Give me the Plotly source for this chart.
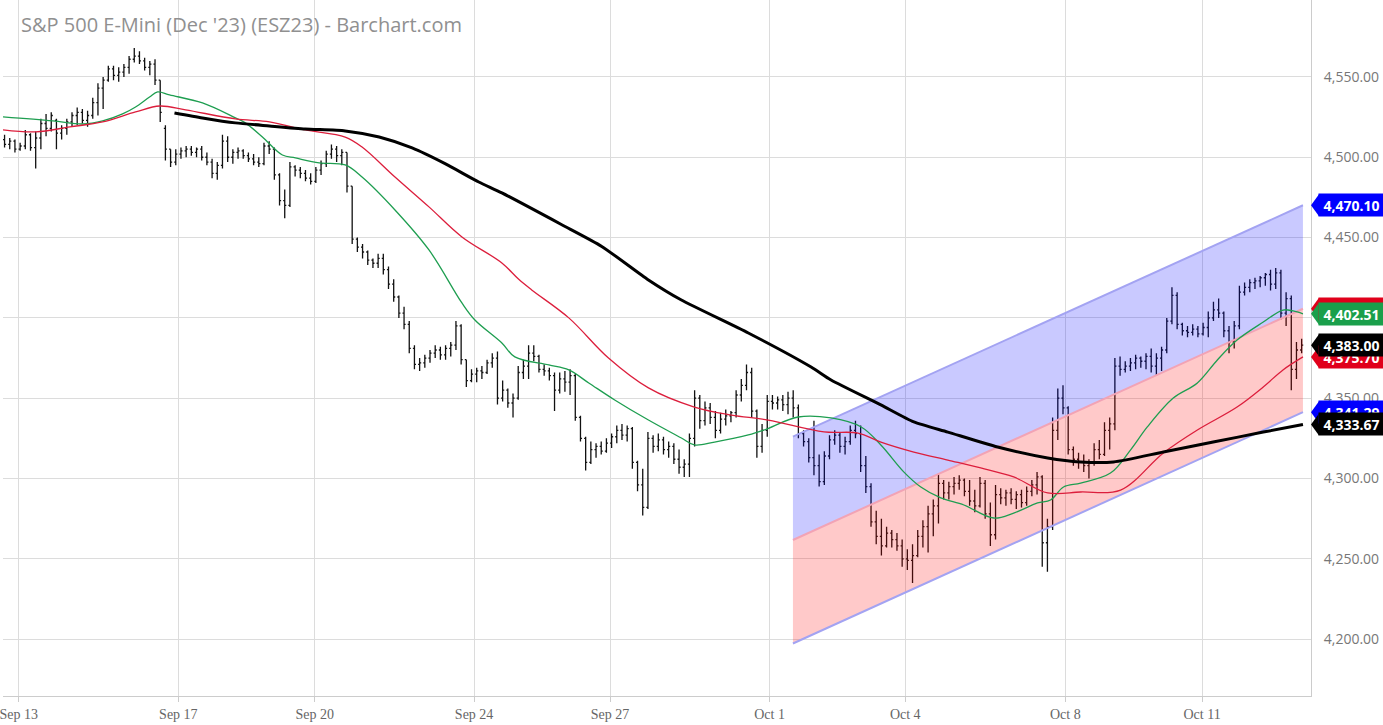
import plotly.graph_objects as go

title_text = "S&P 500 E-Mini (Dec '23) (ESZ23) - Barchart.com"

# x axis: trading-session hours (weekend / daily breaks removed)
tick_hours = [5.5, 67.0, 119.6, 181.0, 233.4, 294.9, 347.2, 408.9, 461.6]
tick_labels = ["Sep 13", "Sep 17", "Sep 20", "Sep 24", "Sep 27", "Oct 1", "Oct 4", "Oct 8", "Oct 11"]
bar_step_hours = 2

opens = [4511, 4508, 4510, 4505, 4507, 4514, 4506, 4512, 4521, 4518,
         4523, 4515, 4518, 4522, 4526, 4528, 4523, 4526, 4534, 4543,
         4548, 4555, 4551, 4553, 4556, 4561, 4563, 4560, 4556, 4558,
         4548, 4518, 4505, 4497, 4502, 4504, 4505, 4503, 4505, 4500,
         4497, 4490, 4495, 4510, 4500, 4503, 4504, 4501, 4499, 4497,
         4496, 4507, 4505, 4489, 4473, 4470, 4494, 4492, 4490, 4487,
         4485, 4492, 4496, 4502, 4505, 4501, 4503, 4482, 4449, 4444,
         4441, 4436, 4434, 4437, 4430, 4421, 4413, 4403, 4396, 4381,
         4371, 4372, 4375, 4378, 4380, 4377, 4381, 4383, 4395, 4374,
         4361, 4365, 4367, 4366, 4372, 4375, 4350, 4355, 4347, 4350,
         4366, 4370, 4378, 4376, 4368, 4367, 4364, 4355, 4362, 4360,
         4364, 4338, 4325, 4310, 4318, 4320, 4317, 4322, 4326, 4330,
         4327, 4331, 4310, 4296, 4282, 4325, 4320, 4324, 4318, 4320,
         4312, 4307, 4309, 4325, 4350, 4336, 4344, 4338, 4330, 4337,
         4339, 4341, 4352, 4358, 4366, 4342, 4320, 4330, 4348, 4347,
         4349, 4346, 4350, 4344, 4328, 4323, 4313, 4308, 4298, 4314,
         4324, 4327, 4320, 4323, 4330, 4328, 4308, 4295, 4273, 4264,
         4258, 4266, 4262, 4258, 4250, 4249, 4252, 4264, 4270, 4278,
         4283, 4297, 4291, 4295, 4297, 4299, 4292, 4286, 4283, 4297,
         4278, 4265, 4290, 4288, 4291, 4287, 4290, 4285, 4292, 4296,
         4301, 4260, 4270, 4330, 4350, 4344, 4318, 4312, 4310, 4308,
         4310, 4318, 4315, 4330, 4334, 4370, 4368, 4370, 4372, 4375,
         4373, 4376, 4370, 4375, 4380, 4398, 4414, 4396, 4392, 4391,
         4393, 4390, 4394, 4400, 4405, 4403, 4392, 4385, 4395, 4416,
         4419, 4422, 4423, 4425, 4427, 4421, 4428, 4403, 4412, 4368,
         4380]
highs = [4514, 4512, 4511, 4509, 4517, 4515, 4516, 4524, 4527, 4528,
         4524, 4520, 4524, 4528, 4531, 4530, 4529, 4537, 4546, 4550,
         4557, 4557, 4556, 4558, 4563, 4568, 4566, 4562, 4560, 4561,
         4548, 4520, 4505, 4505, 4506, 4507, 4507, 4506, 4507, 4503,
         4499, 4497, 4514, 4513, 4505, 4506, 4505, 4503, 4502, 4500,
         4509, 4510, 4506, 4490, 4480, 4497, 4495, 4494, 4492, 4490,
         4494, 4498, 4504, 4508, 4507, 4505, 4503, 4482, 4450, 4446,
         4442, 4437, 4440, 4440, 4432, 4424, 4414, 4407, 4398, 4383,
         4375, 4377, 4380, 4383, 4382, 4383, 4385, 4398, 4396, 4374,
         4368, 4369, 4370, 4374, 4378, 4379, 4361, 4356, 4353, 4370,
         4374, 4383, 4383, 4377, 4371, 4369, 4366, 4366, 4367, 4368,
         4365, 4339, 4326, 4323, 4322, 4323, 4325, 4328, 4333, 4334,
         4333, 4332, 4311, 4306, 4329, 4327, 4328, 4326, 4323, 4322,
         4318, 4312, 4328, 4355, 4352, 4348, 4347, 4342, 4341, 4343,
         4342, 4355, 4362, 4371, 4369, 4343, 4334, 4352, 4352, 4351,
         4352, 4354, 4355, 4346, 4330, 4325, 4336, 4315, 4317, 4327,
         4330, 4329, 4326, 4333, 4336, 4333, 4314, 4297, 4280, 4275,
         4270, 4268, 4266, 4262, 4256, 4259, 4268, 4274, 4283, 4287,
         4303, 4299, 4298, 4301, 4302, 4300, 4299, 4293, 4301, 4299,
         4285, 4296, 4294, 4293, 4294, 4292, 4293, 4295, 4299, 4304,
         4302, 4275, 4338, 4356, 4358, 4345, 4320, 4316, 4315, 4312,
         4322, 4324, 4335, 4338, 4375, 4376, 4373, 4375, 4377, 4376,
         4378, 4381, 4378, 4382, 4400, 4419, 4416, 4397, 4395, 4396,
         4395, 4397, 4404, 4410, 4412, 4404, 4395, 4398, 4420, 4422,
         4424, 4425, 4426, 4428, 4430, 4431, 4430, 4416, 4414, 4385,
         4387]
lows = [4506, 4505, 4503, 4504, 4505, 4504, 4493, 4505, 4513, 4516,
        4505, 4511, 4514, 4519, 4520, 4521, 4519, 4524, 4526, 4530,
        4547, 4548, 4547, 4550, 4552, 4559, 4558, 4554, 4551, 4545,
        4522, 4498, 4494, 4495, 4499, 4500, 4501, 4500, 4498, 4495,
        4487, 4486, 4493, 4497, 4496, 4499, 4499, 4497, 4495, 4494,
        4495, 4502, 4486, 4470, 4462, 4469, 4488, 4487, 4485, 4483,
        4484, 4489, 4494, 4499, 4497, 4495, 4478, 4446, 4441, 4437,
        4433, 4431, 4431, 4427, 4418, 4410, 4400, 4393, 4378, 4368,
        4367, 4369, 4372, 4375, 4374, 4374, 4376, 4380, 4371, 4357,
        4360, 4360, 4362, 4365, 4369, 4346, 4348, 4344, 4338, 4349,
        4362, 4362, 4373, 4366, 4364, 4361, 4342, 4353, 4354, 4352,
        4336, 4323, 4305, 4309, 4313, 4315, 4316, 4319, 4322, 4324,
        4323, 4306, 4292, 4277, 4281, 4316, 4317, 4315, 4313, 4309,
        4303, 4301, 4301, 4320, 4331, 4333, 4334, 4325, 4328, 4333,
        4335, 4338, 4348, 4355, 4338, 4313, 4316, 4326, 4343, 4343,
        4342, 4340, 4338, 4325, 4320, 4310, 4302, 4295, 4296, 4312,
        4321, 4316, 4315, 4321, 4325, 4304, 4291, 4270, 4259, 4252,
        4257, 4257, 4255, 4245, 4243, 4235, 4251, 4257, 4254, 4264,
        4272, 4287, 4287, 4290, 4293, 4289, 4283, 4279, 4282, 4275,
        4258, 4262, 4284, 4283, 4284, 4281, 4282, 4283, 4289, 4290,
        4245, 4242, 4268, 4324, 4340, 4315, 4308, 4306, 4304, 4300,
        4308, 4312, 4314, 4318, 4330, 4364, 4366, 4367, 4368, 4369,
        4368, 4366, 4364, 4367, 4378, 4396, 4393, 4389, 4388, 4389,
        4388, 4389, 4388, 4398, 4400, 4388, 4378, 4381, 4393, 4414,
        4416, 4418, 4419, 4420, 4417, 4418, 4399, 4395, 4355, 4362,
        4378]
closes = [4508, 4510, 4505, 4507, 4514, 4506, 4512, 4521, 4518, 4526,
          4515, 4518, 4522, 4526, 4528, 4523, 4526, 4534, 4543, 4548,
          4555, 4551, 4553, 4556, 4561, 4563, 4560, 4556, 4558, 4548,
          4528, 4505, 4497, 4502, 4504, 4505, 4503, 4505, 4500, 4497,
          4490, 4495, 4510, 4500, 4503, 4504, 4501, 4499, 4497, 4496,
          4507, 4505, 4489, 4473, 4470, 4494, 4492, 4490, 4487, 4485,
          4492, 4496, 4502, 4505, 4501, 4503, 4482, 4449, 4444, 4441,
          4436, 4434, 4437, 4430, 4421, 4413, 4403, 4396, 4381, 4371,
          4372, 4375, 4378, 4380, 4377, 4381, 4383, 4395, 4374, 4361,
          4365, 4367, 4366, 4372, 4375, 4350, 4355, 4347, 4350, 4366,
          4370, 4378, 4376, 4368, 4367, 4364, 4355, 4362, 4360, 4364,
          4338, 4325, 4310, 4318, 4320, 4317, 4322, 4326, 4330, 4327,
          4331, 4310, 4296, 4282, 4325, 4320, 4324, 4318, 4320, 4312,
          4307, 4309, 4325, 4350, 4336, 4344, 4338, 4330, 4337, 4339,
          4341, 4352, 4358, 4366, 4342, 4320, 4330, 4348, 4347, 4349,
          4346, 4350, 4344, 4328, 4323, 4313, 4308, 4298, 4314, 4324,
          4327, 4320, 4323, 4330, 4328, 4308, 4295, 4273, 4264, 4258,
          4266, 4262, 4258, 4250, 4249, 4252, 4264, 4270, 4278, 4283,
          4297, 4291, 4295, 4297, 4299, 4292, 4286, 4283, 4297, 4278,
          4265, 4290, 4288, 4291, 4287, 4290, 4285, 4292, 4296, 4301,
          4260, 4270, 4330, 4350, 4344, 4318, 4312, 4310, 4308, 4310,
          4318, 4315, 4330, 4334, 4370, 4368, 4370, 4372, 4375, 4373,
          4376, 4370, 4375, 4380, 4398, 4414, 4396, 4392, 4391, 4393,
          4390, 4394, 4400, 4405, 4403, 4392, 4385, 4395, 4416, 4419,
          4422, 4423, 4425, 4427, 4421, 4428, 4403, 4412, 4368, 4380,
          4383.00]

# moving averages (hour position, price)
ma_fast_hours = [-0.6, 18.6, 30.2, 37.8, 45.5, 50.5, 55.9, 59.0, 63.6, 76.3,
                 89.0, 92.8, 99.4, 107.1, 112.1, 121.3, 131.3, 137.8, 150.5, 163.6,
                 176.3, 181.3, 191.7, 196.7, 209.8, 217.5, 225.2, 235.2, 248.2, 260.9,
                 265.9, 273.7, 286.7, 292.8, 305.9, 318.6, 330.2, 337.8, 346.7, 353.2,
                 360.9, 369.8, 381.3, 389.0, 398.2, 403.2, 408.2, 414.8, 426.3, 434.0,
                 440.5, 450.5, 459.8, 467.5, 475.1, 485.2, 492.8, 496.7, 500.5]
ma_fast_values = [4525.1, 4522.6, 4520.7, 4522.6, 4527.0, 4531.3, 4537.5, 4540.7, 4538.8, 4533.8,
                  4524.5, 4521.4, 4512.6, 4501.4, 4499.6, 4496.5, 4495.2, 4487.7, 4467.2, 4442.3,
                  4409.3, 4398.7, 4384.4, 4375.7, 4370.7, 4367.6, 4359.5, 4348.9, 4336.4, 4325.2,
                  4320.9, 4322.7, 4327.1, 4330.2, 4338.3, 4337.7, 4332.1, 4320.9, 4304.0, 4294.7,
                  4287.9, 4283.5, 4275.4, 4278.5, 4284.8, 4286.6, 4294.7, 4297.2, 4303.4, 4317.7,
                  4332.1, 4350.1, 4359.5, 4373.8, 4386.2, 4397.4, 4404.9, 4404.3, 4402.51]

ma_mid_hours = [-0.6, 12.1, 25.2, 37.8, 50.5, 59.8, 69.8, 89.0, 102.1, 115.9,
                131.3, 137.8, 150.5, 163.6, 176.3, 191.7, 198.2, 203.2, 217.5, 232.8,
                248.2, 265.9, 280.2, 294.4, 315.9, 329.0, 337.8, 350.5, 363.6, 376.3,
                389.0, 402.1, 414.8, 430.2, 446.7, 459.8, 475.1, 485.2, 492.8, 500.5]
ma_mid_values = [4517.0, 4515.8, 4518.9, 4522.0, 4528.2, 4531.9, 4529.5, 4523.9, 4522.0, 4517.0,
                 4512.6, 4506.4, 4487.7, 4469.1, 4450.4, 4434.2, 4424.0, 4417.4, 4400.0, 4375.0,
                 4356.4, 4344.5, 4339.5, 4336.4, 4329.0, 4328.3, 4322.7, 4316.5, 4311.5, 4306.6,
                 4301.0, 4291.0, 4291.6, 4292.8, 4315.9, 4330.2, 4344.5, 4357.0, 4367.6, 4375.70]

ma_slow_hours = [65.5, 76.3, 89.0, 102.1, 115.9, 131.3, 144.4, 157.1, 169.8, 182.8,
                 191.7, 214.8, 230.2, 248.2, 260.9, 286.7, 310.9, 318.6, 337.8, 350.5,
                 363.6, 382.8, 402.1, 414.8, 427.5, 446.7, 465.9, 485.2, 500.5]
ma_slow_values = [4527.6, 4524.5, 4521.4, 4519.5, 4517.6, 4516.4, 4512.6, 4505.8, 4496.0, 4484.6,
                  4477.8, 4458.0, 4444.5, 4423.6, 4411.1, 4390.6, 4369.4, 4361.3, 4345.8, 4335.2,
                  4328.9, 4319.6, 4312.8, 4310.3, 4310.3, 4316.5, 4322.7, 4328.9, 4333.67]

# regression channel
channel_hours = [303.9, 500.5]
channel_upper = [4326.1, 4470.10]
channel_lower = [4197.3, 4341.29]
channel_mid = [(u + l) / 2 for u, l in zip(channel_upper, channel_lower)]

bar_hours = [i * bar_step_hours for i in range(len(closes))]

fig = go.Figure()

fig.add_trace(go.Scatter(x=channel_hours, y=channel_lower, mode="lines",
                         line=dict(color="#a3a3f2", width=2), hoverinfo="skip"))
fig.add_trace(go.Scatter(x=channel_hours, y=channel_mid, mode="lines",
                         line=dict(color="#f2a3b5", width=2), fill="tonexty",
                         fillcolor="rgba(255,0,0,0.21)", hoverinfo="skip"))
fig.add_trace(go.Scatter(x=channel_hours, y=channel_upper, mode="lines",
                         line=dict(color="#a3a3f2", width=2), fill="tonexty",
                         fillcolor="rgba(0,0,255,0.21)", hoverinfo="skip"))

fig.add_trace(go.Scatter(x=ma_fast_hours, y=ma_fast_values, mode="lines",
                         line=dict(color="#1e9e50", width=1.3, shape="spline"), hoverinfo="skip"))
fig.add_trace(go.Scatter(x=ma_mid_hours, y=ma_mid_values, mode="lines",
                         line=dict(color="#dc1e3c", width=1.3, shape="spline"), hoverinfo="skip"))
fig.add_trace(go.Scatter(x=ma_slow_hours, y=ma_slow_values, mode="lines",
                         line=dict(color="#000000", width=3, shape="spline", smoothing=0.6),
                         hoverinfo="skip"))

fig.add_trace(go.Ohlc(x=bar_hours, open=opens, high=highs, low=lows, close=closes,
                      increasing=dict(line=dict(color="#111111", width=1.3)),
                      decreasing=dict(line=dict(color="#111111", width=1.3)),
                      tickwidth=0.3))

# price tags on the right
tags = [
    (channel_upper[-1], "#0000ff"),
    (channel_mid[-1], "#e0001b"),
    (ma_fast_values[-1], "#1a9f4b"),
    (ma_mid_values[-1], "#e0001b"),
    (closes[-1], "#000000"),
    (channel_lower[-1], "#0000ff"),
    (ma_slow_values[-1], "#000000"),
]
shapes = []
annotations = []
for v, c in tags:
    shapes.append(dict(type="path", xref="paper", yref="y", xsizemode="pixel", ysizemode="pixel",
                       xanchor=1, yanchor=v, path="M0,0 L8,11 L8,-11 Z",
                       fillcolor=c, line=dict(width=0), layer="above"))
    annotations.append(dict(xref="paper", yref="y", x=1, y=v, xanchor="left", yanchor="middle",
                            xshift=7, text="<b>%s</b>" % format(v, ",.2f"), showarrow=False,
                            bgcolor=c, width=63, height=20, borderpad=1, align="center",
                            font=dict(color="white", size=14, family="Open Sans")))

annotations.append(dict(xref="paper", yref="paper", x=0.012, y=0.965, xanchor="left", yanchor="middle",
                        text=title_text, showarrow=False,
                        font=dict(family="Open Sans", size=20, color="#909090")))

fig.update_layout(
    width=1383, height=725,
    margin=dict(l=0, r=72, t=0, b=29),
    paper_bgcolor="white", plot_bgcolor="white",
    showlegend=False,
    shapes=shapes, annotations=annotations,
    xaxis=dict(range=[-0.6, 503.6], tickmode="array", tickvals=tick_hours, ticktext=tick_labels,
               showgrid=True, gridcolor="#dcdcdc", gridwidth=1, zeroline=False,
               ticks="outside", ticklen=5, tickcolor="#cccccc",
               showline=True, linecolor="#cccccc", linewidth=1,
               ticklabeloverflow="allow",
               rangeslider=dict(visible=False),
               tickfont=dict(family="Liberation Sans Narrow", size=14, color="#666666")),
    yaxis=dict(side="right", range=[4164.6, 4597.9], tick0=4200, dtick=50, tickformat=",.2f",
               showgrid=True, gridcolor="#dcdcdc", gridwidth=1, zeroline=False,
               ticks="", showline=True, linecolor="#cccccc", linewidth=1,
               ticklabelstandoff=9,
               tickfont=dict(family="Open Sans", size=14, color="#777777")),
)

fig.write_html("out.html", config={"displayModeBar": False},
               post_script="document.body.style.margin='0';document.body.style.overflow='hidden';")
